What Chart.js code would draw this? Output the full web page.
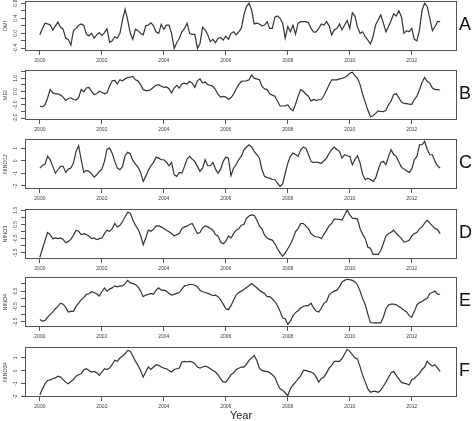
<!DOCTYPE html>
<html>
<head>
<meta charset="utf-8">
<script src="https://cdn.jsdelivr.net/npm/chart.js@4.4.0/dist/chart.umd.min.js"></script>
<style>
  body { margin: 0; background: #fff; width: 474px; height: 421px; overflow: hidden; position: relative; }
  canvas { position: absolute; left: 0; }
</style>
</head>
<body>
<canvas id="pA" width="474" height="66" style="top:-1px"></canvas>
<canvas id="pB" width="474" height="66" style="top:68px"></canvas>
<canvas id="pC" width="474" height="66" style="top:137px"></canvas>
<canvas id="pD" width="474" height="66" style="top:207px"></canvas>
<canvas id="pE" width="474" height="66" style="top:275px"></canvas>
<canvas id="pF" width="474" height="78" style="top:345px"></canvas>
<script>
// monthly values, Jan 2000 .. Dec 2012
const startYear = 2000
const xTicks = [2000, 2002, 2004, 2006, 2008, 2010, 2012]

const dmi = [
  -0.04, 0.13, 0.27, 0.25, 0.22, 0.09, 0.20, 0.30, 0.16, 0.11, -0.13, -0.16,
  -0.31, 0.07, 0.13, 0.21, 0.25, 0.21, -0.02, -0.07, 0.00, -0.13, -0.04, 0.02,
  -0.06, 0.02, 0.12, -0.24, -0.20, -0.09, -0.13, 0.00, 0.36, 0.64, 0.36, 0.00,
  -0.16, 0.11, 0.07, 0.00, -0.04, 0.20, 0.22, 0.28, 0.20, 0.04, 0.00, 0.24,
  0.11, 0.22, 0.22, 0.00, -0.40, -0.25, -0.13, 0.04, 0.13, 0.27, 0.00, -0.03,
  -0.03, -0.40, -0.27, 0.16, 0.09, -0.04, -0.22, -0.16, -0.25, -0.13, -0.11, -0.18,
  -0.07, -0.16, 0.00, 0.04, -0.04, 0.04, 0.13, 0.49, 0.71, 0.80, 0.62, 0.25,
  0.27, 0.25, 0.20, 0.22, 0.31, 0.13, 0.13, 0.43, 0.46, 0.40, 0.27, -0.13,
  0.18, 0.04, 0.22, -0.02, 0.27, 0.31, 0.31, 0.31, 0.28, 0.13, 0.03, 0.04,
  0.13, 0.25, 0.22, 0.31, 0.20, -0.04, 0.09, 0.13, 0.25, 0.09, 0.22, 0.34,
  0.13, 0.55, 0.46, 0.16, 0.00, 0.04, -0.09, -0.18, -0.28, -0.09, 0.22, 0.36,
  0.49, 0.27, 0.04, 0.18, 0.34, 0.52, 0.46, 0.60, 0.44, 0.00, 0.07, 0.04,
  0.13, -0.16, -0.20, 0.09, 0.62, 0.80, 0.71, 0.40, 0.07, 0.18, 0.31, 0.31
]
const mei = [
  -1.09, -1.16, -1.00, -0.47, 0.15, -0.10, -0.17, -0.17, -0.27, -0.42, -0.67, -0.52,
  -0.47, -0.60, -0.64, -0.47, 0.15, -0.02, 0.27, 0.32, 0.02, -0.22, -0.17, 0.02,
  -0.05, -0.17, -0.10, 0.40, 0.81, 0.84, 0.57, 0.89, 0.81, 0.96, 1.06, 1.09,
  1.14, 0.89, 0.81, 0.52, 0.15, 0.07, 0.07, 0.15, 0.32, 0.47, 0.52, 0.40,
  0.32, 0.35, 0.22, -0.10, 0.27, 0.47, 0.27, 0.57, 0.64, 0.57, 0.77, 0.64,
  0.32, 0.81, 0.96, 0.64, 0.72, 0.52, 0.47, 0.40, 0.15, -0.22, -0.42, -0.37,
  -0.42, -0.59, -0.47, -0.20, 0.20, 0.52, 0.77, 0.80, 0.81, 0.89, 1.26, 1.00,
  0.96, 0.89, 0.40, 0.20, 0.15, -0.17, -0.27, -0.35, -0.72, -1.09, -1.09, -1.09,
  -1.00, -1.30, -1.46, -0.96, -0.35, 0.15, 0.02, -0.20, -0.35, -0.72, -0.60, -0.67,
  -0.62, -0.60, -0.30, 0.10, 0.52, 0.89, 0.89, 0.89, 0.96, 1.00, 1.06, 1.20,
  1.38, 1.46, 1.20, 1.00, 0.52, -0.22, -0.80, -1.40, -1.90, -1.83, -1.65, -1.46,
  -1.50, -1.51, -1.41, -1.00, -0.72, -0.22, -0.17, -0.47, -0.80, -0.90, -0.91, -0.95,
  -0.96, -0.60, -0.35, 0.15, 0.70, 1.06, 0.75, 0.64, 0.27, 0.15, 0.15, 0.12
]
const nino12 = [
  -0.59, -0.37, -0.27, 0.35, 0.08, -0.45, -0.99, -0.72, -0.45, -0.45, -0.93, -0.67,
  -0.59, -0.19, 0.75, 1.20, 0.08, -0.93, -0.77, -0.85, -1.04, -1.31, -1.12, -0.85,
  -0.67, -0.05, 0.93, 1.01, 0.61, -0.05, -0.59, -0.72, -0.45, 0.40, 0.67, 0.56,
  0.03, -0.27, -0.51, -0.93, -1.65, -1.25, -0.77, -0.40, -0.13, 0.29, 0.21, 0.08,
  0.08, -0.11, -0.40, -0.13, -1.12, -1.25, -0.93, -0.99, -0.45, 0.13, 0.35, 0.13,
  -0.05, -0.45, -0.85, -0.59, 0.08, -0.40, -0.40, -0.13, -0.67, -0.99, -0.67, -0.05,
  0.29, 0.20, -1.20, -0.60, -0.30, 0.10, 0.35, 0.85, 1.10, 1.28, 1.10, 0.75,
  0.50, 0.21, -0.72, -1.25, -1.35, -1.39, -1.50, -1.52, -1.79, -2.05, -1.85, -1.00,
  -0.20, 0.35, 0.61, 0.50, 0.35, 0.88, 1.09, 1.00, 0.50, -0.05, -0.15, -0.10,
  -0.15, -0.20, 0.00, 0.21, 0.60, 0.88, 1.09, 0.90, 0.75, 0.21, 0.48, 0.40,
  0.35, -0.32, 0.10, 0.40, -0.19, -1.10, -1.52, -1.39, -1.50, -1.65, -1.39, -0.72,
  -0.15, -0.05, -0.32, 0.35, 0.88, 0.50, 0.35, -0.10, -0.51, -0.67, -0.80, -0.93,
  -0.67, 0.08, 0.35, 1.28, 1.28, 1.55, 0.90, 0.48, 0.48, -0.05, -0.40, -0.59
]
const nino3 = [
  -1.81, -1.21, -0.62, -0.07, -0.21, -0.50, -0.45, -0.50, -0.45, -0.55, -0.79, -0.69,
  -0.55, -0.26, 0.10, 0.02, -0.21, -0.14, -0.21, -0.31, -0.50, -0.45, -0.57, -0.50,
  -0.45, -0.14, 0.10, 0.02, 0.21, 0.57, 0.33, 0.45, 0.69, 1.05, 1.36, 1.29,
  0.81, 0.45, 0.17, -0.26, -0.93, -0.45, 0.10, 0.02, 0.17, 0.40, 0.40, 0.33,
  0.21, 0.10, -0.02, -0.14, -0.31, -0.21, -0.14, 0.21, 0.33, 0.38, 0.50, 0.57,
  0.21, -0.14, -0.07, 0.26, 0.40, 0.33, 0.21, 0.10, -0.21, -0.31, -0.74, -0.86,
  -0.69, -0.31, -0.45, -0.14, 0.10, 0.20, 0.45, 0.50, 0.93, 1.10, 1.17, 1.15,
  0.81, 0.40, 0.20, -0.26, -0.45, -0.55, -0.60, -0.86, -1.21, -1.50, -1.74, -1.50,
  -1.21, -0.90, -0.50, 0.00, 0.21, 0.57, 0.57, 0.40, 0.21, -0.14, -0.30, -0.38,
  -0.38, -0.50, -0.20, 0.10, 0.40, 0.57, 0.88, 0.88, 0.85, 0.81, 1.17, 1.52,
  1.17, 0.95, 0.93, 0.88, 0.20, -0.20, -0.50, -1.10, -1.17, -1.60, -1.60, -1.60,
  -1.33, -0.86, -0.30, -0.15, -0.05, 0.10, -0.14, -0.30, -0.50, -0.74, -0.70, -0.62,
  -0.30, -0.14, -0.07, 0.21, 0.33, 0.60, 0.81, 0.60, 0.40, 0.21, 0.14, -0.14
]
const nino4 = [
  -1.35, -1.46, -1.41, -1.20, -1.03, -0.86, -0.65, -0.50, -0.29, -0.35, -0.56, -0.86,
  -0.82, -0.82, -0.50, -0.29, -0.07, 0.07, 0.29, 0.33, 0.46, 0.41, 0.33, 0.18,
  0.46, 0.71, 0.50, 0.63, 0.71, 0.84, 0.78, 0.84, 0.84, 0.99, 1.20, 1.05,
  0.99, 0.93, 0.78, 0.50, 0.14, 0.24, 0.29, 0.35, 0.29, 0.56, 0.71, 0.56,
  0.56, 0.50, 0.35, 0.24, 0.29, 0.35, 0.41, 0.63, 0.84, 0.88, 0.93, 0.93,
  0.88, 0.78, 0.56, 0.46, 0.41, 0.35, 0.29, 0.20, 0.24, 0.14, -0.07, -0.35,
  -0.65, -0.71, -0.45, -0.10, 0.24, 0.41, 0.50, 0.60, 0.73, 0.85, 0.99, 0.85,
  0.72, 0.56, 0.45, 0.35, 0.14, 0.14, 0.00, -0.18, -0.45, -0.82, -1.24, -1.30,
  -1.67, -1.46, -1.10, -0.90, -0.78, -0.60, -0.50, -0.44, -0.44, -0.29, -0.60, -0.80,
  -0.86, -0.60, -0.30, -0.18, 0.24, 0.40, 0.50, 0.56, 0.78, 1.10, 1.20, 1.27,
  1.25, 1.20, 1.10, 0.90, 0.50, 0.00, -0.39, -1.00, -1.55, -1.57, -1.57, -1.57,
  -1.57, -1.20, -0.65, -0.40, -0.35, -0.35, -0.39, -0.50, -0.60, -0.75, -0.86, -1.10,
  -1.20, -0.82, -0.40, -0.25, -0.18, -0.05, 0.03, 0.35, 0.41, 0.50, 0.30, 0.28
]
const nino34 = [
  -1.87, -1.40, -1.01, -0.75, -0.70, -0.62, -0.55, -0.42, -0.49, -0.68, -0.88, -1.01,
  -0.83, -0.68, -0.42, -0.31, -0.23, 0.08, 0.16, 0.03, -0.10, -0.05, -0.16, -0.36,
  -0.10, 0.16, 0.10, 0.21, 0.47, 0.81, 0.73, 0.99, 1.14, 1.32, 1.58, 1.51,
  1.14, 0.73, 0.42, 0.03, -0.49, -0.10, 0.29, 0.10, 0.29, 0.47, 0.42, 0.29,
  0.21, 0.16, 0.03, -0.10, 0.10, 0.16, 0.21, 0.68, 0.73, 0.68, 0.73, 0.68,
  0.55, 0.29, 0.21, 0.29, 0.36, 0.29, 0.16, 0.03, -0.10, -0.31, -0.62, -0.88,
  -0.88, -0.62, -0.30, -0.16, 0.10, 0.20, 0.29, 0.29, 0.50, 0.80, 0.99, 1.19,
  0.80, 0.20, 0.03, -0.05, -0.05, -0.16, -0.31, -0.50, -1.01, -1.40, -1.50, -1.70,
  -1.92, -1.40, -1.10, -0.88, -0.60, -0.40, 0.03, 0.03, -0.05, -0.10, -0.20, -0.49,
  -0.88, -0.60, -0.49, -0.16, 0.20, 0.42, 0.73, 0.73, 0.73, 0.94, 1.30, 1.66,
  1.50, 1.25, 1.00, 0.90, 0.30, -0.36, -0.88, -1.40, -1.66, -1.60, -1.60, -1.66,
  -1.50, -1.20, -0.88, -0.50, -0.16, -0.05, -0.36, -0.62, -0.90, -0.96, -1.01, -1.10,
  -0.70, -0.60, -0.40, -0.20, 0.10, 0.29, 0.73, 0.50, 0.36, 0.47, 0.20, -0.05
]

// y tick marks and the labels R kept on each axis
const dmiTicks = [-0.4, -0.2, 0, 0.2, 0.4, 0.6, 0.8]
const dmiLabels = ['-0.4', '0.0', '0.4', '0.8']
const meiTicks = [-2, -1.5, -1, -0.5, 0, 0.5, 1, 1.5]
const meiLabels = ['-2.0', '-1.0', '0.0', '1.0']
const nino12Ticks = [-2, -1, 0, 1]
const nino12Labels = ['-2', '-1', '0', '1']
const nino3Ticks = [-1.5, -1, -0.5, 0, 0.5, 1, 1.5]
const nino3Labels = ['-1.5', '-0.5', '0.5', '1.5']
const nino4Ticks = [-1.5, -1, -0.5, 0, 0.5, 1]
const nino4Labels = ['-1.5', '-0.5', '0.5']
const nino34Ticks = [-2, -1, 0, 1]
const nino34Labels = ['-2', '-1', '0', '1']

const xMin = 1999.52
const xMax = 2013.46
const inkColor = '#3c3c3c'
const tickFont = { family: "'Liberation Sans', Arial, sans-serif", size: 5 }

// box around the plot, rotated y labels and the panel letter
const framePlugin = {
  id: 'frame',
  afterDraw(chart, args, opts) {
    const { ctx, chartArea: a } = chart
    const y = chart.scales.y
    ctx.save()
    ctx.strokeStyle = '#555'
    ctx.lineWidth = 1
    ctx.strokeRect(a.left + 0.5, a.top + 0.5, a.right - a.left - 1, a.bottom - a.top - 1)

    ctx.fillStyle = inkColor
    ctx.font = "5px 'Liberation Sans', Arial, sans-serif"
    ctx.textAlign = 'center'
    ctx.textBaseline = 'middle'
    opts.labels.forEach(function(text) {
      let py = y.getPixelForValue(parseFloat(text))
      ctx.save()
      ctx.translate(15.5, py)
      ctx.rotate(-Math.PI / 2)
      ctx.fillText(text, 0, 0)
      ctx.restore()
    })

    ctx.fillStyle = '#111'
    ctx.font = "18px 'Liberation Sans', Arial, sans-serif"
    ctx.textAlign = 'left'
    ctx.fillText(opts.letter, 459, (a.top + a.bottom) / 2 - 1)
    ctx.restore()
  }
}

function makePanel(canvasId, values, yMin, yMax, yTicks, yLabels, name, letter, isLast) {
  let points = values.map(function(v, i) { return { x: startYear + i / 12, y: v } })
  return new Chart(document.getElementById(canvasId), {
    type: 'line',
    data: {
      datasets: [{
        data: points,
        borderColor: '#333',
        borderWidth: 1.2,
        pointRadius: 0,
        tension: 0
      }]
    },
    options: {
      responsive: false,
      animation: false,
      devicePixelRatio: 1,
      layout: { padding: { top: 2, right: 17, left: 0, bottom: 0 } },
      plugins: {
        legend: { display: false },
        tooltip: { enabled: false },
        frame: { letter: letter, labels: yLabels }
      },
      scales: {
        x: {
          type: 'linear',
          min: xMin,
          max: xMax,
          afterBuildTicks: function(s) { s.ticks = xTicks.map(function(v) { return { value: v } }) },
          afterFit: function(s) { s.height = isLast ? 26 : 14 },
          grid: { drawOnChartArea: false, drawTicks: true, tickLength: 4, color: '#555' },
          border: { display: false },
          ticks: {
            font: tickFont, color: inkColor, padding: 3,
            maxRotation: 0, minRotation: 0, autoSkip: false,
            callback: function(v) { return String(v) }
          },
          title: {
            display: isLast, text: 'Year', color: '#222',
            font: { family: "'Liberation Sans Narrow', 'Liberation Sans', Arial, sans-serif", size: 11 },
            padding: { top: 0, bottom: 0 }
          }
        },
        y: {
          min: yMin,
          max: yMax,
          afterBuildTicks: function(s) { s.ticks = yTicks.map(function(v) { return { value: v } }) },
          afterFit: function(s) { s.width = 25 },
          grid: { drawOnChartArea: false, drawTicks: true, tickLength: 4, color: '#555' },
          border: { display: false },
          ticks: { display: false },
          title: {
            display: true, text: name, color: inkColor,
            font: { family: "'Liberation Sans', Arial, sans-serif", size: 5.5 },
            padding: { top: 2, bottom: 0 }
          }
        }
      }
    },
    plugins: [framePlugin]
  })
}

makePanel('pA', dmi, -0.47, 0.86, dmiTicks, dmiLabels, 'DMI', 'A', false)
makePanel('pB', mei, -2.15, 1.63, meiTicks, meiLabels, 'MEI', 'B', false)
makePanel('pC', nino12, -2.26, 1.74, nino12Ticks, nino12Labels, 'NINO12', 'C', false)
makePanel('pD', nino3, -1.93, 1.59, nino3Ticks, nino3Labels, 'NINO3', 'D', false)
makePanel('pE', nino4, -1.84, 1.42, nino4Ticks, nino4Labels, 'NINO4', 'E', false)
makePanel('pF', nino34, -2.03, 1.84, nino34Ticks, nino34Labels, 'NINO34', 'F', true)
</script>
</body>
</html>
